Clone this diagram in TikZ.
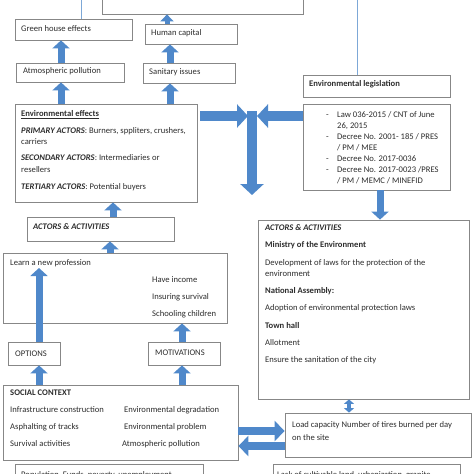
\documentclass[tikz,border=0pt]{standalone}
\usepackage{fontspec}
\setmainfont{Carlito}
\usetikzlibrary{arrows.meta,calc,fit}
\definecolor{arrowblue}{RGB}{79,136,202}
\definecolor{linkblue}{RGB}{125,168,215}
\definecolor{boxgray}{RGB}{135,135,135}
\definecolor{txtgray}{RGB}{45,45,45}
\tikzset{
  box/.style={draw=boxgray, line width=0.8pt, fill=white, inner sep=0pt},
  txt/.style={anchor=mid west, inner sep=0pt, font=\fontsize{8.6}{10}\selectfont, text=txtgray},
  barrow/.style={draw=arrowblue, line width=7pt, -{Triangle[width=17pt,length=8pt]}},
  tinyarrow/.style={draw=arrowblue, line width=5pt, -{Triangle[width=13pt,length=7pt]}},
  bigarrow/.style={draw=arrowblue, line width=10pt, -{Triangle[width=23pt,length=11pt]}},
  harrow/.style={draw=arrowblue, line width=8pt, -{Triangle[width=20pt,length=10pt]}},
  dblarrow/.style={draw=arrowblue, line width=4pt, {Triangle[width=10pt,length=4.5pt]}-{Triangle[width=10pt,length=4.5pt]}},
  link/.style={draw=linkblue, line width=0.9pt},
}
\begin{document}
\begin{tikzpicture}[x=1pt,y=-1pt]
\useasboundingbox (0,0) rectangle (474,474);
\clip (0,0) rectangle (474,474);
\fill[white] (0,0) rectangle (474,474);

% column coordinates
\coordinate (cA) at (61,0);
\coordinate (cB) at (170,0);
\coordinate (cH) at (167,0);
\coordinate (cC) at (113,0);
\coordinate (cD) at (110,0);
\coordinate (cE) at (39,0);
\coordinate (cF) at (182,0);
\coordinate (cG) at (380,0);
\coordinate (cK) at (349,0);
\coordinate (rowR) at (0,431);
\coordinate (rowL) at (0,446);
\coordinate (rowT) at (0,116);
\coordinate (ltop) at (81,-10);
\coordinate (rtop) at (357,-10);
\coordinate (tj) at (252,111);
\coordinate (tdown) at (252,195);
\coordinate (tmid) at (252,116);
\coordinate (optTip) at (39,268);

% boxes
\node[box, fit={(102,-10) (303,14)}] (topbox) {};
\node[box, fit={(15,19) (132,40)}] (gh) {};
\node[box, fit={(145,24) (237,44)}] (hc) {};
\node[box, fit={(16,63) (124,82)}] (atm) {};
\node[box, fit={(143,63) (235,83)}] (san) {};
\node[box, fit={(303,75) (450,97)}] (legt) {};
\node[box, fit={(303,104) (450,190)}] (legl) {};
\node[box, fit={(15,104) (197,202)}] (env) {};
\node[box, fit={(27,217) (174,241)}] (actl) {};
\node[box, fit={(3,253) (227,323)}] (learn) {};
\node[box, fit={(8,342) (60,365)}] (opt) {};
\node[box, fit={(148,342) (220,365)}] (mot) {};
\node[box, fit={(258,220) (469,399)}] (actr) {};
\node[box, fit={(3,385) (238,460)}] (soc) {};
\node[box, fit={(285,413) (471,457)}] (load) {};
\node[box, fit={(15,464) (203,495)}] (pop) {};
\node[box, fit={(273,464) (460,495)}] (lack) {};

% thin links from top
\draw[link] (ltop) -- (gh.north -| ltop);
\draw[link] (rtop) -- (legt.north -| rtop);

% texts
\node[txt] (t-gh) at (21,29) {Green house effects};
\node[txt] (t-hc) at (151,33) {Human capital};
\node[txt] (t-atm) at (23,71) {Atmospheric pollution};
\node[txt] (t-san) at (149,72) {Sanitary issues};
\node[txt] (t-legt) at (309,84) {\textbf{Environmental legislation}};

\node[txt] (d1) at (326,115) {-};
\node[txt] (l1) at (337,115) {Law 036-2015 / CNT of June};
\node[txt] (l1b) at (337,126) {26, 2015};
\node[txt] (d2) at (326,137) {-};
\node[txt] (l2) at (337,137) {Decree No. 2001- 185 / PRES};
\node[txt] (l2b) at (337,148) {/ PM / MEE};
\node[txt] (d3) at (326,159) {-};
\node[txt] (l3) at (337,159) {Decree No. 2017-0036};
\node[txt] (d4) at (326,170) {-};
\node[txt] (l4) at (337,170) {Decree No. 2017-0023 /PRES};
\node[txt] (l4b) at (337,181) {/ PM / MEMC / MINEFID};

\node[txt] (e0) at (21,114) {\textbf{\underline{Environmental effects}}};
\node[txt] (e1) at (21,131) {\textbf{\textit{PRIMARY ACTORS}}: Burners, sppliters, crushers,};
\node[txt] (e1b) at (21,142) {carriers};
\node[txt] (e2) at (21,158) {\textbf{\textit{SECONDARY ACTORS}}: Intermediaries or};
\node[txt] (e2b) at (21,170) {resellers};
\node[txt] (e3) at (21,187) {\textbf{\textit{TERTIARY ACTORS}}: Potential buyers};

\node[txt] (t-actl) at (33,227) {\textbf{\textit{ACTORS \& ACTIVITIES}}};

\node[txt] (n1) at (10,263) {Learn a new profession};
\node[txt] (n2) at (152,280) {Have income};
\node[txt] (n3) at (152,297) {Insuring survival};
\node[txt] (n4) at (152,314) {Schooling children};

\node[txt] (t-opt) at (15,354) {OPTIONS};
\node[txt] (t-mot) at (155,353) {MOTIVATIONS};

\node[txt] (s0) at (10,393) {\textbf{SOCIAL CONTEXT}};
\node[txt] (s1) at (10,410) {Infrastructure construction};
\node[txt] (s2) at (124,410) {Environmental degradation};
\node[txt] (s3) at (10,427) {Asphalting of tracks};
\node[txt] (s4) at (124,427) {Environmental problem};
\node[txt] (s5) at (10,444) {Survival activities};
\node[txt] (s6) at (122,444) {Atmospheric pollution};

\node[txt] (r0) at (265,228) {\textbf{\textit{ACTORS \& ACTIVITIES}}};
\node[txt] (r1) at (265,245) {\textbf{Ministry of the Environment}};
\node[txt] (r2) at (265,263) {Development of laws for the protection of the};
\node[txt] (r2b) at (265,274) {environment};
\node[txt] (r3) at (265,291) {\textbf{National Assembly:}};
\node[txt] (r4) at (265,308) {Adoption of environmental protection laws};
\node[txt] (r5) at (265,326) {\textbf{Town hall}};
\node[txt] (r6) at (265,343) {Allotment};
\node[txt] (r7) at (265,360) {Ensure the sanitation of the city};

\node[txt] (c1) at (292,425) {Load capacity Number of tires burned per day};
\node[txt] (c1b) at (292,438) {on the site};

\node[txt] (p1) at (21,475) {Population, Funds, poverty, unemployment};
\node[txt] (k1) at (277,475) {Lack of cultivable land, urbanization, granite};

% block arrows
\draw[barrow] (atm.north -| cA) -- (gh.south -| cA);
\draw[barrow] (env.north -| cA) -- (atm.south -| cA);
\draw[barrow] (san.north -| cB) -- (hc.south -| cB);
\draw[barrow] (env.north -| cB) -- (san.south -| cB);
\draw[tinyarrow] (hc.north -| cH) -- (topbox.south -| cH);
\draw[barrow] (actl.north -| cC) -- (env.south -| cC);
\draw[barrow] (learn.north -| cD) -- (actl.south -| cD);
\draw[barrow] (opt.north -| cE) -- (optTip);
\draw[barrow] (mot.north -| cF) -- (learn.south -| cF);
\draw[barrow] (soc.north -| cE) -- (opt.south -| cE);
\draw[barrow] (soc.north -| cF) -- (mot.south -| cF);
\draw[barrow] (legl.south -| cG) -- (actr.north -| cG);
\draw[dblarrow] (actr.south -| cK) -- (load.north -| cK);

\draw[bigarrow] (tj) -- (tdown);
\draw[bigarrow, shorten <=3pt] (env.east |- rowT) -- ([xshift=-4pt]tmid);
\draw[bigarrow] (legl.west |- rowT) -- ([xshift=5pt]tmid);

\draw[harrow] (soc.east |- rowR) -- (load.west |- rowR);
\draw[harrow] (load.west |- rowL) -- (soc.east |- rowL);
\end{tikzpicture}
\end{document}
